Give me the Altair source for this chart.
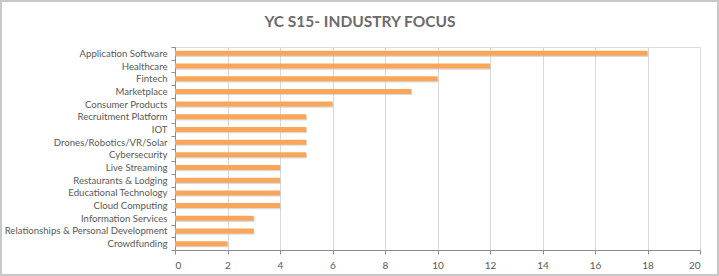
import altair as alt
import pandas as pd

categories = [
    "Application Software", "Healthcare", "Fintech", "Marketplace",
    "Consumer Products", "Recruitment Platform", "IOT",
    "Drones/Robotics/VR/Solar", "Cybersecurity", "Live Streaming",
    "Restaurants & Lodging", "Educational Technology", "Cloud Computing",
    "Information Services", "Relationships & Personal Development", "Crowdfunding",
]
values = [18, 12, 10, 9, 6, 5, 5, 5, 5, 4, 4, 4, 4, 3, 3, 2]
x_ticks = [0, 2, 4, 6, 8, 10, 12, 14, 16, 18, 20]
title_text = "YC S15- INDUSTRY FOCUS"

df = pd.DataFrame({"industry": categories, "count": values})
one = pd.DataFrame({"t": [title_text]})

W, H = 525, 203
LEFT, TOP = 175, 47
TEXT = "#595959"
FONT = "Lato"

y_enc = alt.Y(
    "industry:N", sort=categories, title=None,
    scale=alt.Scale(paddingInner=0, paddingOuter=0),
    axis=alt.Axis(tickBand="extent", labelFontSize=9.6, labelColor=TEXT, labelFont=FONT,
                  domainColor="#8c8c8c", tickColor="#8c8c8c", tickSize=4, labelPadding=4,
                  labelLimit=0, grid=False),
)
x_scale = alt.Scale(domain=[0, 20], nice=False)

shadow = alt.Chart(df).mark_bar(size=5, color="#b0b0b0", opacity=0.45, yOffset=1.2, xOffset=0.8).encode(
    x=alt.X("count:Q", scale=x_scale, title=None,
            axis=alt.Axis(values=x_ticks, labelFontSize=10, labelColor=TEXT, labelFont=FONT,
                          gridColor="#d9d9d9", domainColor="#8c8c8c", tickColor="#8c8c8c",
                          tickSize=4, labelPadding=6)),
    y=y_enc,
)
bars = alt.Chart(df).mark_bar(size=5, color="#F9A65A").encode(
    x=alt.X("count:Q", scale=x_scale),
    y=alt.Y("industry:N", sort=categories),
)
frame = alt.Chart(one).mark_rect(fill=None, stroke="#c8c8c8", strokeWidth=2, clip=False).encode(
    x=alt.value(-LEFT + 1), x2=alt.value(719 - LEFT - 1),
    y=alt.value(-TOP + 1), y2=alt.value(276 - TOP - 1),
)
title = alt.Chart(one).mark_text(font=FONT, fontSize=15.5, fontWeight="bold", color="#6b6b6b",
                                 align="center", baseline="middle").encode(
    text="t:N", x=alt.value(360 - LEFT), y=alt.value(22 - TOP),
)

chart = alt.layer(shadow, bars, frame, title).properties(
    width=W, height=H,
    autosize=alt.AutoSizeParams(type="none"),
    padding={"left": LEFT, "top": TOP, "right": 719 - LEFT - W, "bottom": 276 - TOP - H},
).configure_view(stroke=None).configure(background="white")

chart.save("out.html", embed_options={"renderer": "svg", "actions": False})
